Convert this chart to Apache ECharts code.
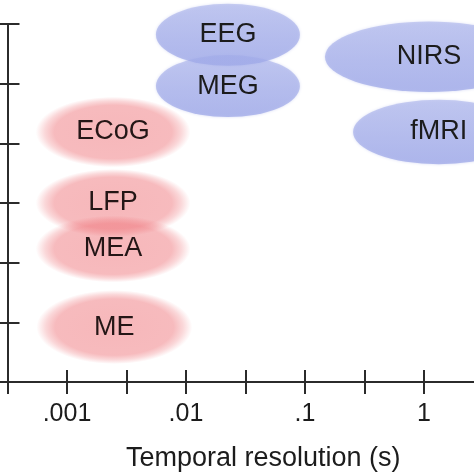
<!DOCTYPE html>
<html><head><meta charset="utf-8">
<script src="https://cdn.jsdelivr.net/npm/echarts@6/dist/echarts.min.js"></script>
<style>html,body{margin:0;padding:0;background:#fff}#c{width:474px;height:474px}</style>
</head><body><div id="c"></div>
<script>
// Recording techniques: temporal resolution (s, centre) and spatial position (axis units)
const techniques     = ['EEG', 'MEG', 'NIRS', 'fMRI', 'ECoG', 'LFP', 'MEA', 'ME'];
const temporalCenter = [0.0225, 0.0225, 1.1, 1.33, 0.00244, 0.00244, 0.00244, 0.0025];
const temporalSpan   = [0.605, 0.605, 0.874, 0.72, 0.65, 0.65, 0.65, 0.655];   // half-width in decades
const spatialCenter  = [5.82, 4.96, 5.45, 4.19, 4.19, 3.0, 2.23, 0.92];
const spatialSpan    = [0.52, 0.52, 0.59, 0.54, 0.59, 0.57, 0.56, 0.62];
const isInvasive     = [0, 0, 0, 0, 1, 1, 1, 1];
const xTickLabels    = {'-3': '.001', '-2': '.01', '-1': '.1', '0': '1', '1': '10'};

const FONT = '"Liberation Sans", Arial, Helvetica, sans-serif';
const AXIS = '#2b2b2b';

const data = techniques.map((n, i) => [Math.log10(temporalCenter[i]), spatialCenter[i], temporalSpan[i], spatialSpan[i], i, isInvasive[i]]);

function renderItem(params, api) {
  const lx = api.value(0), y = api.value(1), hw = api.value(2), hh = api.value(3);
  const i = api.value(4), red = api.value(5) === 1;
  const c = api.coord([lx, y]);
  const e = api.coord([lx + hw, y + hh]);
  const rx = Math.abs(e[0] - c[0]), ry = Math.abs(c[1] - e[1]);
  let fill, extra = {};
  if (red) {
    fill = new echarts.graphic.RadialGradient(0.5, 0.5, 0.5, [
      {offset: 0, color: 'rgba(238,112,118,0.50)'},
      {offset: 0.76, color: 'rgba(238,112,118,0.48)'},
      {offset: 0.88, color: 'rgba(238,112,118,0.28)'},
      {offset: 1, color: 'rgba(238,112,118,0)'}
    ]);
  } else {
    fill = new echarts.graphic.LinearGradient(0, 0, 0, 1, [
      {offset: 0, color: 'rgba(160,170,232,0.52)'},
      {offset: 1, color: 'rgba(160,170,232,0.76)'}
    ]);
    extra = {shadowBlur: 3, shadowColor: 'rgba(160,170,232,0.6)'};
  }
  return {
    type: 'group',
    children: [
      {type: 'circle', x: c[0], y: c[1], scaleX: rx / ry, shape: {cx: 0, cy: 0, r: ry},
       style: Object.assign({fill: fill}, extra)},
      {type: 'text', x: c[0], y: c[1],
       style: {text: techniques[i], fill: red ? '#241616' : '#1c1c1c', font: '27px ' + FONT, align: 'center', verticalAlign: 'middle'}}
    ]
  };
}

function xAxisBase(main) {
  return {
    type: 'value', min: -3.5, max: 1, interval: 0.5, position: 'bottom',
    axisLine: {show: main, onZero: false, lineStyle: {color: AXIS, width: 2}},
    axisTick: {show: true, inside: !main, length: 12, lineStyle: {color: AXIS, width: 2}},
    axisLabel: main ? {
      show: true, margin: 20, fontSize: 25, fontFamily: FONT, color: '#1c1c1c',
      formatter: v => { const r = Math.round(v); return Math.abs(v - r) < 1e-6 && xTickLabels[String(r)] ? xTickLabels[String(r)] : ''; }
    } : {show: false},
    splitLine: {show: false}
  };
}
function yAxisBase(main) {
  return {
    type: 'value', min: 0, max: 6, interval: 1, position: 'left',
    axisLine: {show: main, onZero: false, lineStyle: {color: AXIS, width: 2}},
    axisTick: {show: true, inside: !main, length: 12, lineStyle: {color: AXIS, width: 2}},
    axisLabel: {show: false},
    splitLine: {show: false}
  };
}

const xMain = xAxisBase(true);
xMain.name = 'Temporal resolution (s)';
xMain.nameLocation = 'middle';
xMain.nameGap = 63;
xMain.nameTextStyle = {fontSize: 27, fontFamily: FONT, color: '#1c1c1c', padding: [0, 24, 0, 0]};

const chart = echarts.init(document.getElementById('c'), null, {renderer: 'canvas'});
chart.setOption({
  animation: false,
  backgroundColor: '#ffffff',
  grid: {left: 7.5, top: 24, width: 535.5, height: 358, containLabel: false, outerBoundsMode: 'none'},
  xAxis: [xMain, xAxisBase(false)],
  yAxis: [yAxisBase(true), yAxisBase(false)],
  series: [{
    type: 'custom', xAxisIndex: 0, yAxisIndex: 0, clip: false,
    renderItem: renderItem, data: data, silent: true
  }]
});
</script></body></html>
